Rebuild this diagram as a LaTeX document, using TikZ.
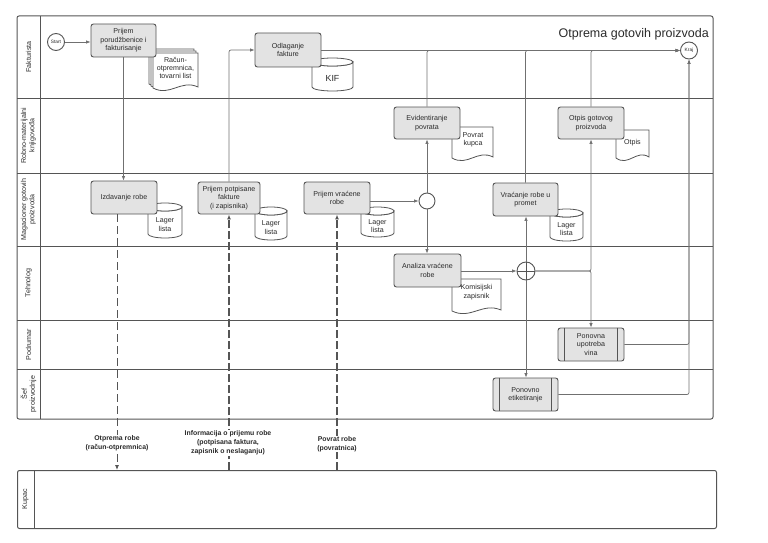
\documentclass[tikz,border=0pt]{standalone}
\usepackage{fontspec}
\setmainfont{Liberation Sans}
\usetikzlibrary{arrows.meta,calc}
\definecolor{lc}{HTML}{555555}
\definecolor{cc}{HTML}{707070}
\definecolor{tf}{HTML}{E3E3E3}
\definecolor{tx}{HTML}{2A2A2A}
\tikzset{
 task/.style={draw=lc, fill=tf, rounded corners=2.5pt, line width=0.9pt, align=center, font=\fontsize{7.1}{8.4}\selectfont, text=tx, inner sep=1pt},
 conn/.style={draw=cc, line width=0.7pt, -{Latex[length=4.5pt,width=3.5pt]}, rounded corners=2pt},
 msgthin/.style={draw=lc, line width=0.8pt, dash pattern=on 8pt off 4pt, -{Latex[length=5pt,width=4pt]}},
 msgthick/.style={draw=lc, line width=1.4pt, dash pattern=on 8pt off 3pt, -{Latex[length=5pt,width=4pt]}},
 lane/.style={draw=lc, line width=1pt},
 lanelbl/.style={rotate=90, align=center, font=\fontsize{7.1}{8.2}\selectfont, text=tx},
 doctxt/.style={align=center, font=\fontsize{7.1}{8.4}\selectfont, text=tx, inner sep=0pt},
 msglbl/.style={align=center, font=\bfseries\fontsize{6.9}{8.9}\selectfont, text=tx, fill=white, inner sep=0.5pt},
 evt/.style={circle, draw=lc, fill=white, line width=0.9pt, minimum size=17pt, inner sep=0pt, font=\fontsize{4.8}{5}\selectfont, text=tx},
 gw/.style={circle, draw=lc, fill=white, line width=0.9pt, inner sep=0pt},
}
\newcommand{\docshape}[4]{%
\filldraw[draw=lc, fill=white, line width=0.8pt] (#1,#2) -- (#3,#2) -- (#3,#4-3) .. controls ({#1+0.62*(#3-#1)},#4-11) and ({#1+0.38*(#3-#1)},#4+7) .. (#1,#4-2) -- cycle;}
\newcommand{\cylnode}[7]{%
\filldraw[draw=lc, fill=white, line width=0.8pt] (#2,#3+4) -- (#2,#5-4) arc[start angle=180, end angle=0, x radius={(#4-#2)/2}, y radius=4] -- (#4,#3+4) arc[start angle=0, end angle=180, x radius={(#4-#2)/2}, y radius=4] -- cycle;
\filldraw[draw=lc, fill=white, line width=0.8pt] ({(#2+#4)/2},#3+4) ellipse[x radius={(#4-#2)/2}, y radius=4];
\node[doctxt, font=\fontsize{#7}{8.4}\selectfont] (#1) at ({(#2+#4)/2},{(#3+#5)/2+4}) {#6};}
\begin{document}
\begin{tikzpicture}[x=1pt,y=-1pt]
\useasboundingbox (0,0) rectangle (768,543);
% main pool
\draw[lane, rounded corners=2pt] (17,16) rectangle (713,419);
\draw[lane] (40,16) -- (40,419);
\foreach \yy in {98,173,246,320,369} \draw[lane] (17,\yy) -- (713,\yy);
\node[lanelbl] (l1) at (28.5,57) {Fakturista};
\node[lanelbl] (l2) at (28.5,135.5) {Robno-materijalni\\knjigovođa};
\node[lanelbl] (l3) at (28.5,209.5) {Magacioner gotovih\\proizvoda};
\node[lanelbl] (l4) at (28.5,283) {Tehnolog};
\node[lanelbl] (l5) at (28.5,344.5) {Podrumar};
\node[lanelbl] (l6) at (28.5,394) {Šef\\proizvodnje};
\node[anchor=east, font=\fontsize{12.5}{14}\selectfont, text=tx, inner sep=0pt] (title) at (709,34) {Otprema gotovih proizvoda};
% Kupac pool
\node[draw=lc, line width=1pt, rounded corners=2pt, minimum width=699pt, minimum height=58pt, inner sep=0pt, anchor=north west] (kupac) at (17,470) {};
\draw[lane] ([xshift=17pt]kupac.north west) -- ([xshift=17pt]kupac.south west);
\node[lanelbl] (l7) at (25.5,499) {Kupac};
% documents
\docshape{149}{49}{194}{86}
\docshape{151}{51}{196}{88}
\docshape{153}{53}{198}{90}
\node[doctxt] (racun) at (175.5,68) {Račun-\\otpremnica,\\tovarni list};
\docshape{452}{127}{493}{160}
\node[doctxt] (povratdoc) at (473,140) {Povrat\\kupca};
\docshape{616}{130}{649}{160}
\node[doctxt] (otpisdoc) at (632.5,143) {Otpis};
\docshape{452}{279}{501}{313}
\node[doctxt] (komdoc) at (476.5,292) {Komisijski\\zapisnik};
% cylinders
\cylnode{kif}{312}{58}{353}{91}{KIF}{8.8}
\cylnode{lag1}{148}{203}{182}{238}{Lager\\lista}{7.1}
\cylnode{lag2}{255}{207}{287}{240}{Lager\\lista}{7.1}
\cylnode{lag3}{361}{207}{394}{237}{Lager\\lista}{7.1}
\cylnode{lag4}{550}{209}{583}{241}{Lager\\lista}{7.1}
% tasks
\node[task, minimum width=65pt, minimum height=33pt] (prij) at (123.5,40.5) {Prijem\\porudžbenice i\\fakturisanje};
\node[task, minimum width=66pt, minimum height=34pt] (odl) at (288,50) {Odlaganje\\fakture};
\node[task, minimum width=66pt, minimum height=33pt] (izd) at (124,197.5) {Izdavanje robe};
\node[task, minimum width=62pt, minimum height=32pt] (pf) at (229,198) {Prijem potpisane\\fakture\\(i zapisnika)};
\node[task, minimum width=66pt, minimum height=32pt] (prv) at (337,198) {Prijem vraćene\\robe};
\node[task, minimum width=66pt, minimum height=32pt] (evid) at (427,123) {Evidentiranje\\povrata};
\node[task, minimum width=66pt, minimum height=32pt] (otpis) at (591,123) {Otpis gotovog\\proizvoda};
\node[task, minimum width=65pt, minimum height=33pt] (vrac) at (525.5,199.5) {Vraćanje robe u\\promet};
\node[task, minimum width=67pt, minimum height=33pt] (anal) at (427.5,270.5) {Analiza vraćene\\robe};
\node[task, minimum width=66pt, minimum height=33pt] (upot) at (591,344.5) {Ponovna\\upotreba\\vina};
\node[task, minimum width=65pt, minimum height=33pt] (etik) at (525.5,394.5) {Ponovno\\etiketiranje};
\foreach \n in {upot,etik}{
 \draw[lc, line width=1.2pt] ([xshift=7pt]\n.north west) -- ([xshift=7pt]\n.south west);
 \draw[lc, line width=1.2pt] ([xshift=-7pt]\n.north east) -- ([xshift=-7pt]\n.south east);
}
% events and gateways
\node[evt] (start) at (56,42) {Start};
\node[evt] (kraj) at (689,50.5) {Kraj};
\node[gw, minimum size=16pt] (gw1) at (427,201) {};
\node[gw, minimum size=18pt] (gw2) at (526,271) {};
\draw[lc, line width=0.9pt] (gw2.north) -- (gw2.south) (gw2.west) -- (gw2.east);
% connectors
\draw[conn] (start.east) -- (start.east -| prij.west);
\draw[conn] (prij.south) -- (prij.south |- izd.north);
\draw[conn] (pf.north) |- (odl.west);
\draw[conn] (odl.east |- kraj.west) -- (kraj.west);
\draw[conn] (evid.north) |- (kraj.west);
\draw[conn] (vrac.north) |- (kraj.west);
\draw[conn] (otpis.north) |- (kraj.west);
\draw[conn] (prv.east |- gw1.west) -- (gw1.west);
\draw[conn] (gw1.north) -- (gw1.north |- evid.south);
\draw[conn] (gw1.south) -- (gw1.south |- anal.north);
\draw[conn] (anal.east |- gw2.west) -- (gw2.west);
\draw[conn] (gw2.north) -- (gw2.north |- vrac.south);
\draw[conn] (gw2.south) -- (gw2.south |- etik.north);
\draw[conn] (gw2.east) -| (otpis.south);
\draw[conn] (gw2.east) -| (upot.north);
\draw[conn] (upot.east) -| (kraj.south);
\draw[conn] (etik.east) -| (kraj.south);
% message flows
\draw[msgthin] ([xshift=-7pt]izd.south) -- ([xshift=-7pt]izd.south |- kupac.north);
\draw[msgthick] (pf.south |- kupac.north) -- (pf.south);
\draw[msgthick] (prv.south |- kupac.north) -- (prv.south);
\node[msglbl] (m1) at (117,443) {Otprema robe\\(račun-otpremnica)};
\node[msglbl] (m2) at (228,443) {Informacija o prijemu robe\\(potpisana faktura,\\zapisnik o neslaganju)};
\node[msglbl] (m3) at (337,444) {Povrat robe\\(povratnica)};
\end{tikzpicture}
\end{document}
